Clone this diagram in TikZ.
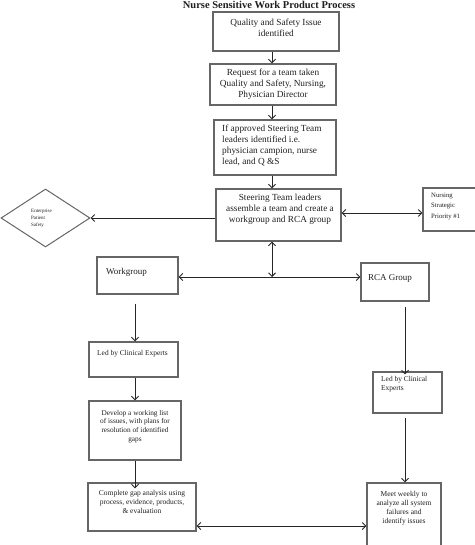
\documentclass[tikz,border=0pt]{standalone}
\usepackage{fontspec}
\setmainfont{Liberation Serif}
\usetikzlibrary{arrows.meta,shapes.geometric}
\begin{document}
\begin{tikzpicture}[x=1pt,y=-1pt,
  box/.style={draw=black!60,line width=1.1pt,inner sep=0pt,rectangle},
  txt/.style={inner sep=0pt,text=black!88},
  big/.style={font=\fontsize{9.3}{11}\selectfont},
  mid/.style={font=\fontsize{7.5}{8.9}\selectfont},
  arr/.style={draw=black!85,line width=1pt,-{Straight Barb[length=3.5pt,width=7pt]}},
  darr/.style={draw=black!85,line width=1pt,{Straight Barb[length=3.5pt,width=7pt]}-{Straight Barb[length=3.5pt,width=7pt]}}]
\useasboundingbox (0,0) rectangle (474,545);
% title
\node[txt,anchor=base,font=\fontsize{10.5}{12}\selectfont\bfseries] (title) at (269,8.2) {Nurse Sensitive Work Product Process};
% boxes
\node[box,minimum width=126pt,minimum height=39pt] (b1) at (276,31.5) {};
\node[box,minimum width=126pt,minimum height=41pt] (b2) at (273,84.5) {};
\node[box,minimum width=122pt,minimum height=55pt] (b3) at (275,147.5) {};
\node[box,minimum width=125pt,minimum height=52pt] (st) at (278.5,215) {};
\node[draw=black!60,line width=1pt,diamond,inner sep=0pt,minimum width=89pt,minimum height=58pt] (dia) at (45.5,218) {};
\node[box,minimum width=53pt,minimum height=43pt] (nur) at (449.5,209.5) {};
\node[box,minimum width=81pt,minimum height=37pt] (wg) at (137.5,275.5) {};
\node[box,minimum width=68pt,minimum height=38pt] (rca) at (395,282) {};
\node[box,minimum width=89pt,minimum height=35pt] (l1) at (133.5,359.5) {};
\node[box,minimum width=92pt,minimum height=59pt] (dev) at (135,430.5) {};
\node[box,minimum width=108pt,minimum height=48pt] (cg) at (142,507) {};
\node[box,minimum width=69pt,minimum height=41pt] (l2) at (407.5,392.5) {};
\node[box,minimum width=74pt,minimum height=64pt] (mw) at (404,515) {};
% texts
\node[txt,big,align=center] (t1) at (276,27.5) {Quality and Safety Issue\\identified};
\node[txt,big,align=center] (t2) at (273,84) {Request for a team taken\\Quality and Safety, Nursing,\\Physician Director};
\node[txt,big,align=left,anchor=west] (t3) at (222,145.5) {If approved Steering Team\\leaders identified i.e.\\physician campion, nurse\\lead, and Q \&S};
\node[txt,big,align=center] (tst) at (280,209) {Steering Team leaders\\assemble a team and create a\\workgroup and RCA group};
\node[txt,align=left,anchor=west,font=\fontsize{6.7}{10.5}\selectfont] (tnur) at (431,206.5) {Nursing\\Strategic\\Priority \#1};
\node[txt,align=left,anchor=west,font=\fontsize{5}{6.7}\selectfont] (tdia) at (31,218.3) {Enterprise\\Patient\\Safety};
\node[txt,anchor=west,font=\fontsize{9}{11}\selectfont] (twg) at (106,272) {Workgroup};
\node[txt,anchor=west,font=\fontsize{9}{11}\selectfont] (trca) at (368,278) {RCA Group};
\node[txt,anchor=west,font=\fontsize{7.4}{8.8}\selectfont] (tl1) at (97,354) {Led by Clinical Experts};
\node[txt,align=center,font=\fontsize{7.3}{8.7}\selectfont] (tdev) at (135,426.3) {Develop a working list\\of issues, with plans for\\resolution of identified\\gaps};
\node[txt,mid,align=center] (tcg) at (142,502) {Complete gap analysis using\\process, evidence, products,\\\& evaluation};
\node[txt,align=left,anchor=west,font=\fontsize{7.4}{9}\selectfont] (tl2) at (381,384.5) {Led by Clinical\\Experts};
\node[txt,mid,align=center] (tmw) at (404,508.5) {Meet weekly to\\analyze all system\\failures and\\identify issues};
% helper coordinates
\coordinate (ax) at (272,0);
\coordinate (lx) at (135,0);
\coordinate (rx) at (405,0);
\coordinate (j) at (272,277);
\coordinate (ys2) at (0,213);
\coordinate (ys3) at (0,526);
% connectors
\draw[arr] (b1.south -| ax) -- (b2.north -| ax);
\draw[arr] (b2.south -| ax) -- (b3.north -| ax);
\draw[arr] (b3.south -| ax) -- (st.north -| ax);
\draw[arr] (st.west |- dia.east) -- (dia.east);
\draw[darr] (st.east |- ys2) -- (nur.west |- ys2);
\draw[darr] (st.south -| ax) -- (j);
\draw[darr] (wg.east |- j) -- (rca.west |- j);
\draw[arr,shorten <=9pt] (wg.south -| lx) -- (l1.north -| lx);
\draw[arr] (l1.south -| lx) -- (dev.north -| lx);
\draw[arr,shorten >=-6pt] (dev.south -| lx) -- (cg.north -| lx);
\draw[arr,shorten <=5pt,shorten >=-3pt] (rca.south -| rx) -- (l2.north -| rx);
\draw[arr,shorten <=4pt] (l2.south -| rx) -- (mw.north -| rx);
\draw[darr] (cg.east |- ys3) -- (mw.west |- ys3);
\end{tikzpicture}
\end{document}
